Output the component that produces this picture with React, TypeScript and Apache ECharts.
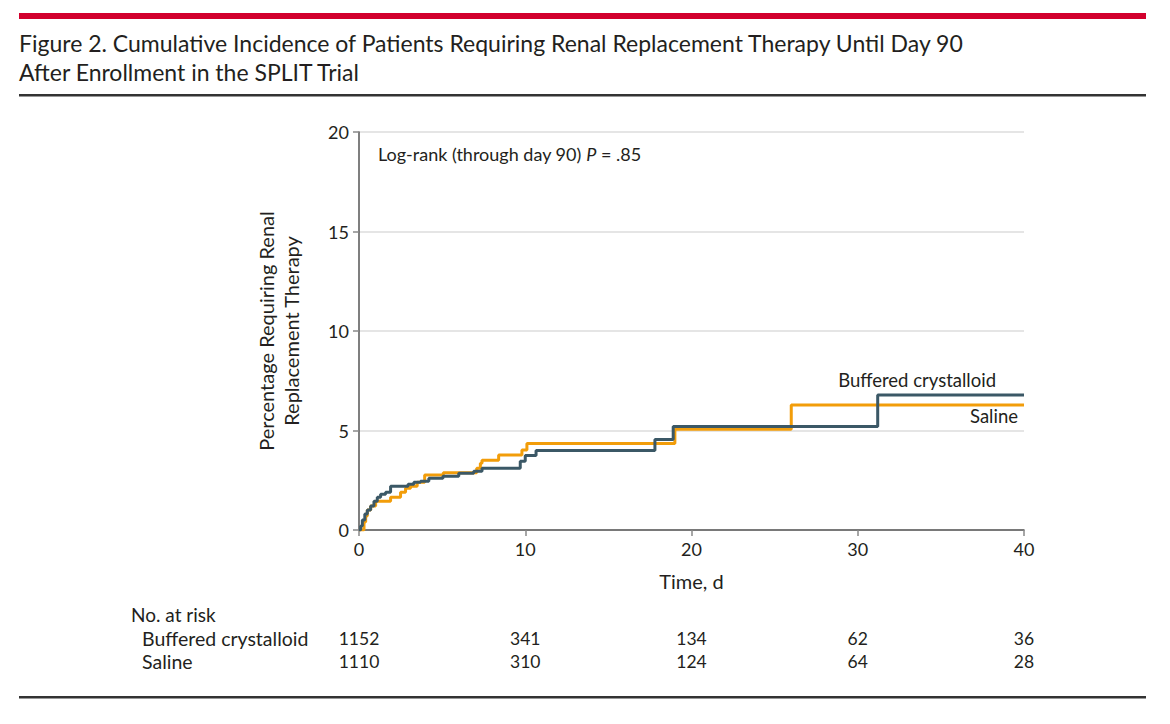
import { useEffect, useRef } from "react";
import * as echarts from "echarts";

const FONT = "Lato, 'Open Sans', sans-serif";

// Kaplan-Meier style cumulative incidence, [day, percent]
const bufferedSteps: [number, number][] = [
  [0, 0], [0.1, 0.2], [0.2, 0.5], [0.35, 0.8], [0.5, 1.0], [0.7, 1.2],
  [0.9, 1.45], [1.1, 1.65], [1.3, 1.8], [1.6, 1.9], [1.9, 2.2], [2.95, 2.3],
  [3.3, 2.4], [3.7, 2.45], [4.2, 2.6], [5.05, 2.7], [6.0, 2.85], [6.9, 2.95],
  [7.4, 3.1], [9.7, 3.45], [10.0, 3.75], [10.65, 4.0], [17.8, 4.55],
  [18.9, 5.2], [31.2, 6.78], [40, 6.78],
];
const salineSteps: [number, number][] = [
  [0, 0], [0.3, 0.4], [0.4, 0.7], [0.5, 1.0], [0.7, 1.2], [1.0, 1.45],
  [1.9, 1.65], [2.5, 1.9], [2.8, 2.1], [3.1, 2.2], [3.5, 2.4], [3.95, 2.76],
  [5.07, 2.88], [7.08, 3.1], [7.3, 3.35], [7.4, 3.5], [8.4, 3.77],
  [9.8, 4.02], [10.1, 4.35], [19.0, 5.06], [26.0, 6.28], [40, 6.28],
];

const riskDays = [0, 10, 20, 30, 40];
const riskBuffered = [1152, 341, 134, 62, 36];
const riskSaline = [1110, 310, 124, 64, 28];

const BLUE = "#3b5866";
const ORANGE = "#f29d0a";
const TEXT = "#231f20";

export default function App() {
  const chartRef = useRef<HTMLDivElement>(null);

  useEffect(() => {
    if (!chartRef.current) return;
    const chart = echarts.init(chartRef.current, null, { renderer: "svg" });

    const option: echarts.EChartsOption = {
      animation: false,
      textStyle: { fontFamily: FONT },
      grid: { left: 359, right: 146, top: 132, bottom: 194 },
      xAxis: {
        type: "value",
        min: 0,
        max: 40,
        interval: 10,
        name: "Time, d",
        nameLocation: "middle",
        nameGap: 41,
        nameTextStyle: { fontSize: 20, color: TEXT, fontFamily: FONT },
        axisLine: { lineStyle: { color: "#555", width: 1.5 } },
        axisTick: { show: true, length: 6, lineStyle: { color: "#888", width: 1.5 } },
        axisLabel: { fontSize: 18, color: TEXT, margin: 10, fontFamily: FONT },
        splitLine: { show: false },
      },
      yAxis: {
        type: "value",
        min: 0,
        max: 20,
        interval: 5,
        name: "Percentage Requiring Renal\nReplacement Therapy",
        nameLocation: "middle",
        nameRotate: 90,
        nameGap: 56,
        nameTextStyle: { fontSize: 20, color: TEXT, fontFamily: FONT, lineHeight: 25 },
        axisLine: { show: true, lineStyle: { color: "#555", width: 1.5 } },
        axisTick: { show: true, length: 6, lineStyle: { color: "#888", width: 1.5 } },
        axisLabel: { fontSize: 18, color: TEXT, margin: 10, fontFamily: FONT },
        splitLine: { lineStyle: { color: "#dcdcdc", width: 1.5 } },
      },
      series: [
        {
          name: "Saline",
          type: "line",
          step: "end",
          data: salineSteps,
          showSymbol: false,
          lineStyle: { color: ORANGE, width: 3 },
          z: 2,
        },
        {
          name: "Buffered crystalloid",
          type: "line",
          step: "end",
          data: bufferedSteps,
          showSymbol: false,
          lineStyle: { color: BLUE, width: 3 },
          z: 3,
        },
      ],
    };
    chart.setOption(option);

    const xPx = (d: number) => chart.convertToPixel({ xAxisIndex: 0 }, d) as number;
    const yPx = (v: number) => chart.convertToPixel({ yAxisIndex: 0 }, v) as number;

    const riskTexts: any[] = [];
    riskDays.forEach((d, i) => {
      riskTexts.push({
        type: "text",
        x: xPx(d),
        y: 638,
        style: { text: String(riskBuffered[i]), fontSize: 17.5, fill: TEXT, fontFamily: FONT, align: "center", verticalAlign: "middle" },
      });
      riskTexts.push({
        type: "text",
        x: xPx(d),
        y: 661,
        style: { text: String(riskSaline[i]), fontSize: 17.5, fill: TEXT, fontFamily: FONT, align: "center", verticalAlign: "middle" },
      });
    });

    const lastBuffered = bufferedSteps[bufferedSteps.length - 1];
    const lastSaline = salineSteps[salineSteps.length - 1];

    chart.setOption({
      graphic: [
        { type: "rect", shape: { x: 19, y: 13, width: 1127, height: 6 }, style: { fill: "#d2002d" } },
        {
          type: "text",
          x: 19,
          y: 43,
          style: { text: "Figure 2. Cumulative Incidence of Patients Requiring Renal Replacement Therapy Until Day 90", fontSize: 23, fill: TEXT, fontFamily: FONT, verticalAlign: "middle" },
        },
        {
          type: "text",
          x: 19,
          y: 72,
          style: { text: "After Enrollment in the SPLIT Trial", fontSize: 23, fill: TEXT, fontFamily: FONT, verticalAlign: "middle" },
        },
        { type: "rect", shape: { x: 19, y: 94, width: 1127, height: 2.5 }, style: { fill: "#333" } },
        {
          type: "text",
          x: 378,
          y: 154,
          style: {
            text: "Log-rank (through day 90) {i|P} = .85",
            fontSize: 18,
            fill: TEXT,
            fontFamily: FONT,
            verticalAlign: "middle",
            rich: { i: { fontStyle: "italic", fontSize: 18, fill: TEXT, fontFamily: FONT } },
          },
        },
        {
          type: "text",
          x: xPx(lastBuffered[0]) - 28,
          y: yPx(lastBuffered[1]) - 15,
          style: { text: "Buffered crystalloid", fontSize: 18.5, fill: TEXT, fontFamily: FONT, align: "right", verticalAlign: "middle" },
        },
        {
          type: "text",
          x: xPx(lastSaline[0]) - 6,
          y: yPx(lastSaline[1]) + 11,
          style: { text: "Saline", fontSize: 18.5, fill: TEXT, fontFamily: FONT, align: "right", verticalAlign: "middle" },
        },
        {
          type: "text",
          x: 131,
          y: 614,
          style: { text: "No. at risk", fontSize: 19, fill: TEXT, fontFamily: FONT, verticalAlign: "middle" },
        },
        {
          type: "text",
          x: 142,
          y: 638,
          style: { text: "Buffered crystalloid", fontSize: 19.5, fill: TEXT, fontFamily: FONT, verticalAlign: "middle" },
        },
        {
          type: "text",
          x: 142,
          y: 661,
          style: { text: "Saline", fontSize: 19.5, fill: TEXT, fontFamily: FONT, verticalAlign: "middle" },
        },
        ...riskTexts,
        { type: "rect", shape: { x: 19, y: 696, width: 1127, height: 2.5 }, style: { fill: "#333" } },
      ],
    });

    return () => {
      chart.dispose();
    };
  }, []);

  return (
    <div
      ref={chartRef}
      style={{ position: "fixed", left: 0, top: 0, width: 1170, height: 724, background: "#fff" }}
    />
  );
}
